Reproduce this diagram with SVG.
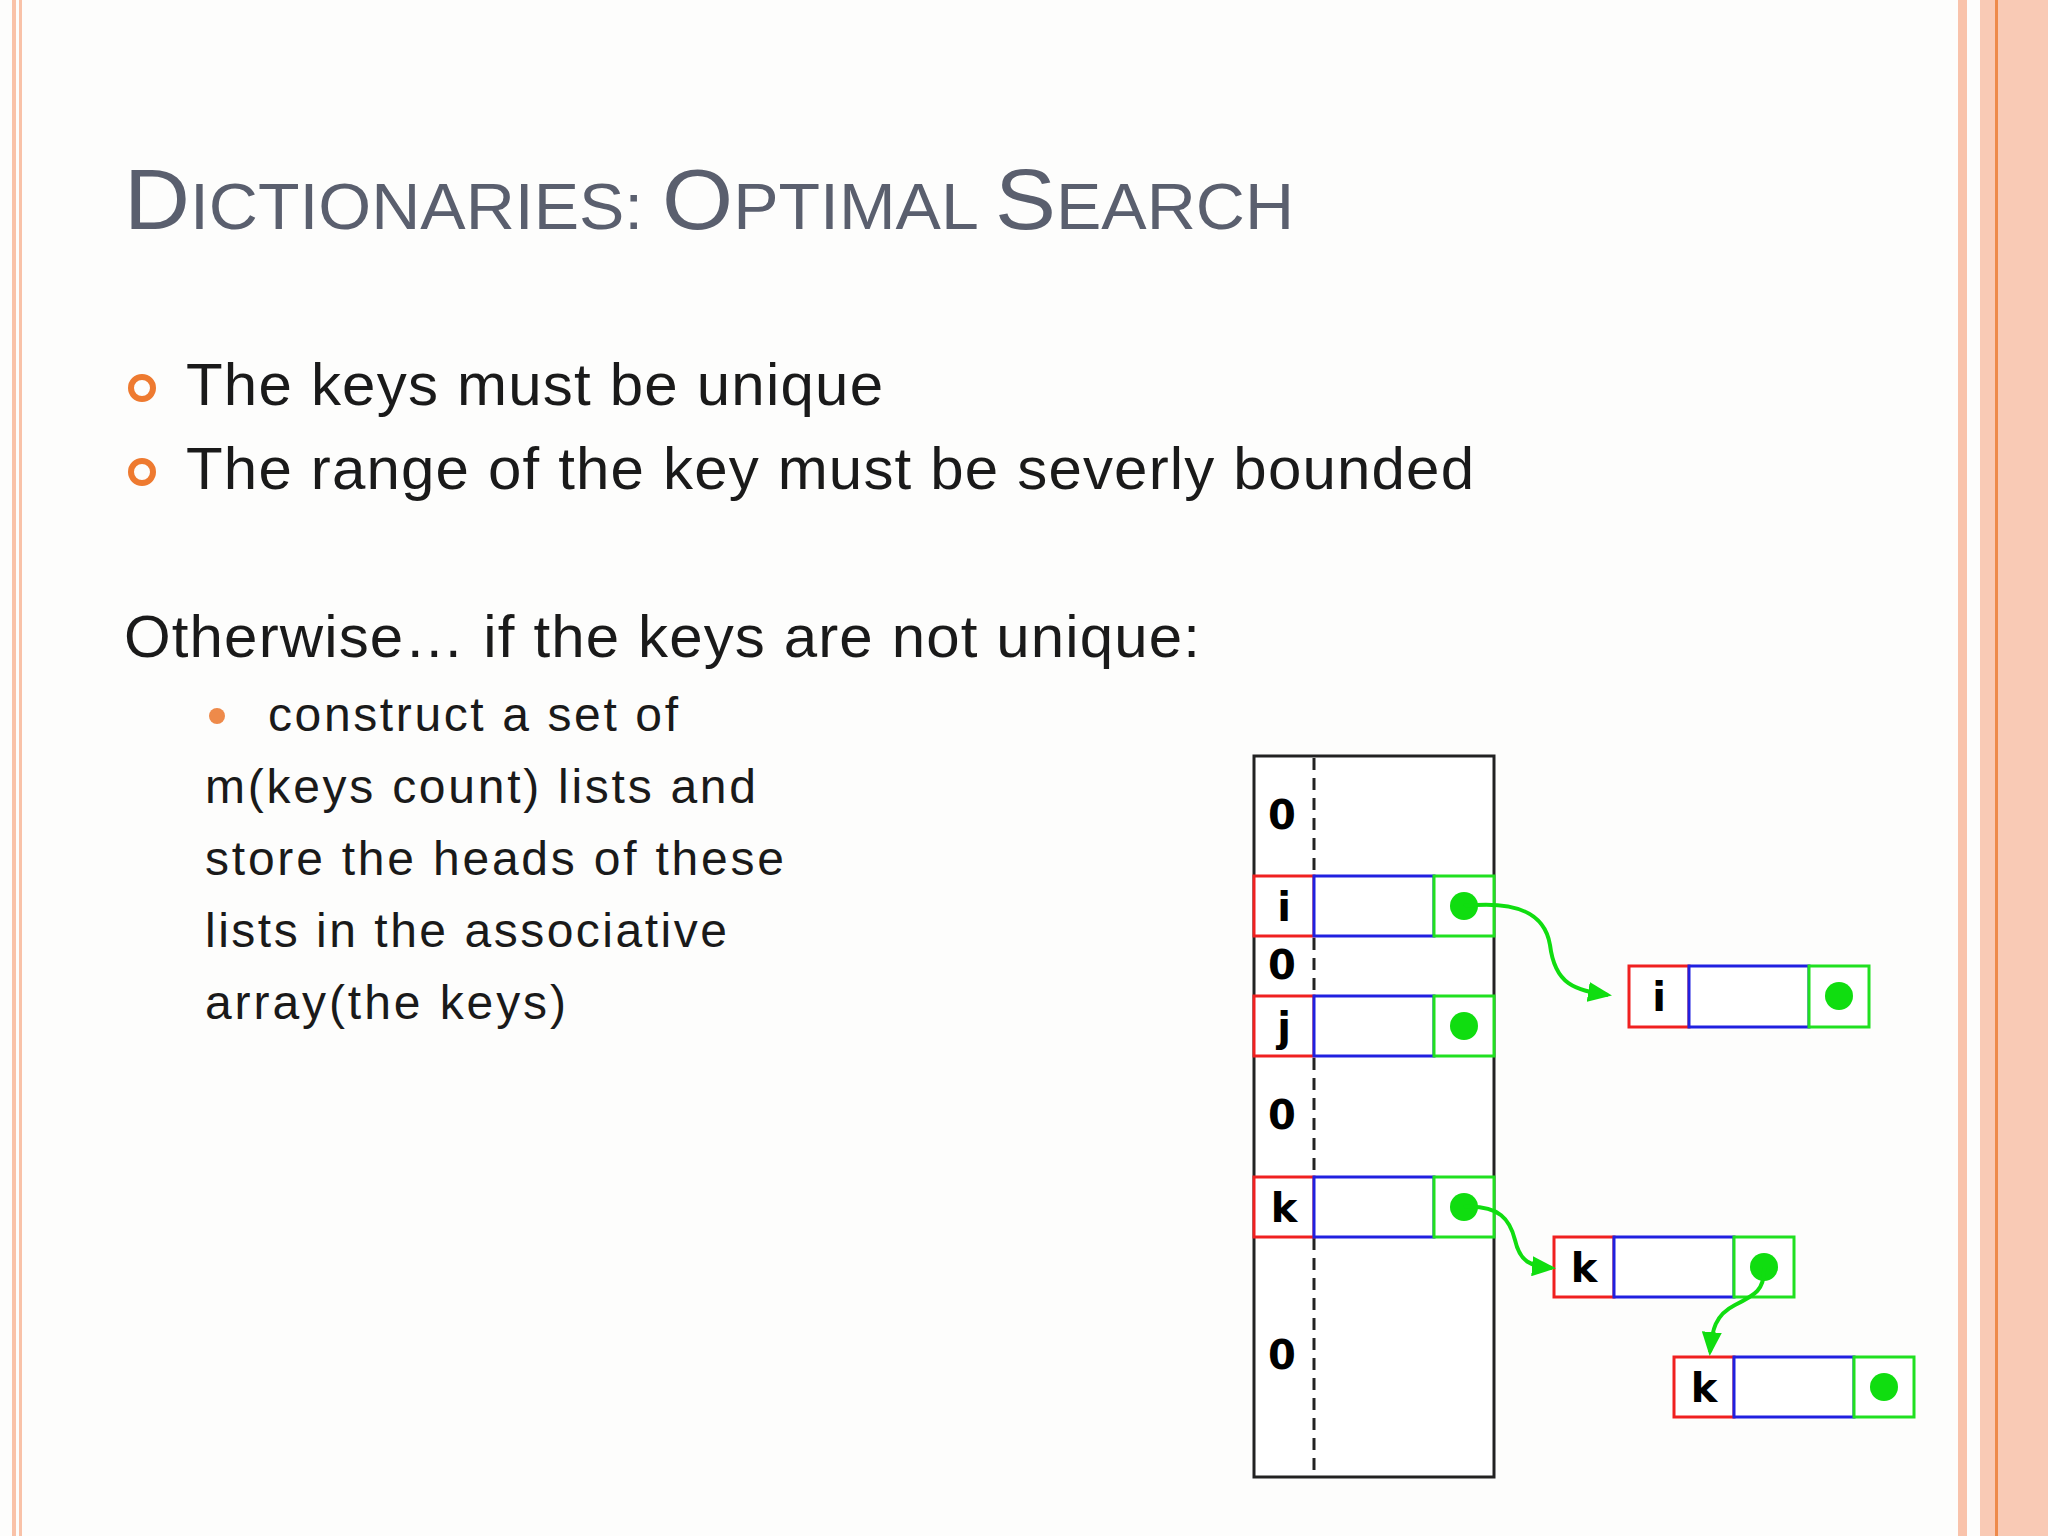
<svg xmlns="http://www.w3.org/2000/svg" width="2048" height="1536" viewBox="0 0 2048 1536">
<style>
.t{font-family:"Liberation Sans",Arial,sans-serif;fill:#1a1a1a}
.k{font-family:"DejaVu Sans",sans-serif;font-weight:bold;font-size:40px;fill:#000;text-anchor:middle}
.r{fill:#fff;stroke:#f02020;stroke-width:3}
.b{fill:#fff;stroke:#2020e0;stroke-width:3}
.g{fill:#fff;stroke:#20e020;stroke-width:3}
.d{fill:#10dd10}
.c{fill:none;stroke:#10dd10;stroke-width:4}
</style>
<defs><marker id="ah" markerWidth="6" markerHeight="5" refX="5" refY="2.5" orient="auto" markerUnits="strokeWidth"><path d="M0,0 L6,2.5 L0,5 z" fill="#10dd10"/></marker></defs>
<rect width="2048" height="1536" fill="#fdfdfc"/>
<rect x="12" y="0" width="4" height="1536" fill="#f9c2a8"/>
<rect x="19" y="0" width="3" height="1536" fill="#f9c2a8"/>
<rect x="1958" y="0" width="9" height="1536" fill="#f9c3ab"/>
<rect x="1980" y="0" width="68" height="1536" fill="#f9cab5"/>
<rect x="1995" y="0" width="3" height="1536" fill="#ee8a4a"/>
<text class="t" x="124" y="229" style="fill:#5a5f6e" textLength="1170" lengthAdjust="spacingAndGlyphs"><tspan font-size="86">D</tspan><tspan font-size="64">ICTIONARIES: </tspan><tspan font-size="86">O</tspan><tspan font-size="64">PTIMAL </tspan><tspan font-size="86">S</tspan><tspan font-size="64">EARCH</tspan></text>
<circle cx="142" cy="388" r="11" fill="none" stroke="#ee7a30" stroke-width="6"/>
<circle cx="142" cy="472" r="11" fill="none" stroke="#ee7a30" stroke-width="6"/>
<text class="t" x="186" y="405" font-size="60" textLength="697">The keys must be unique</text>
<text class="t" x="186" y="489" font-size="60" textLength="1288">The range of the key must be severly bounded</text>
<text class="t" x="124" y="657" font-size="60" textLength="1076">Otherwise… if the keys are not unique:</text>
<circle cx="217" cy="716" r="8" fill="#ee8a4a"/>
<text class="t" x="268" y="731" font-size="48" textLength="410">construct a set of</text>
<text class="t" x="205" y="803" font-size="48" textLength="551">m(keys count) lists and</text>
<text class="t" x="205" y="875" font-size="48" textLength="579">store the heads of these</text>
<text class="t" x="205" y="947" font-size="48" textLength="522">lists in the associative</text>
<text class="t" x="205" y="1019" font-size="48" textLength="361">array(the keys)</text>
<g id="table">
<rect x="1254" y="756" width="240" height="721" fill="#fff" stroke="#222" stroke-width="3"/>
<line x1="1314" y1="758" x2="1314" y2="1475" stroke="#222" stroke-width="3" stroke-dasharray="12,8"/>
<text class="k" x="1282" y="829">0</text>
<text class="k" x="1282" y="979">0</text>
<text class="k" x="1282" y="1129">0</text>
<text class="k" x="1282" y="1369">0</text>
</g>
<g id="row-i"><rect class="r" x="1254" y="876" width="60" height="60"/><rect class="b" x="1314" y="876" width="120" height="60"/><rect class="g" x="1434" y="876" width="60" height="60"/><circle class="d" cx="1464" cy="906" r="14"/><text class="k" x="1284" y="921">i</text></g>
<g id="row-j"><rect class="r" x="1254" y="996" width="60" height="60"/><rect class="b" x="1314" y="996" width="120" height="60"/><rect class="g" x="1434" y="996" width="60" height="60"/><circle class="d" cx="1464" cy="1026" r="14"/><text class="k" x="1284" y="1041">j</text></g>
<g id="row-k"><rect class="r" x="1254" y="1177" width="60" height="60"/><rect class="b" x="1314" y="1177" width="120" height="60"/><rect class="g" x="1434" y="1177" width="60" height="60"/><circle class="d" cx="1464" cy="1207" r="14"/><text class="k" x="1284" y="1222">k</text></g>
<g id="node-i2"><rect class="r" x="1629" y="966" width="60" height="61"/><rect class="b" x="1689" y="966" width="120" height="61"/><rect class="g" x="1809" y="966" width="60" height="61"/><circle class="d" cx="1839" cy="996" r="14"/><text class="k" x="1659" y="1011">i</text></g>
<g id="node-k2"><rect class="r" x="1554" y="1237" width="60" height="60"/><rect class="b" x="1614" y="1237" width="120" height="60"/><rect class="g" x="1734" y="1237" width="60" height="60"/><circle class="d" cx="1764" cy="1267" r="14"/><text class="k" x="1584" y="1282">k</text></g>
<g id="node-k3"><rect class="r" x="1674" y="1357" width="60" height="60"/><rect class="b" x="1734" y="1357" width="120" height="60"/><rect class="g" x="1854" y="1357" width="60" height="60"/><circle class="d" cx="1884" cy="1387" r="14"/><text class="k" x="1704" y="1402">k</text></g>
<g id="connectors">
<path class="c" d="M1464,906 C1520,900 1545,915 1550,945 C1555,985 1575,990 1608,995" marker-end="url(#ah)"/>
<path class="c" d="M1464,1207 C1500,1205 1510,1220 1515,1240 C1520,1262 1530,1266 1552,1268" marker-end="url(#ah)"/>
<path class="c" d="M1764,1267 C1765,1290 1755,1295 1735,1305 C1715,1315 1712,1330 1710,1352" marker-end="url(#ah)"/>
</g>
</svg>
